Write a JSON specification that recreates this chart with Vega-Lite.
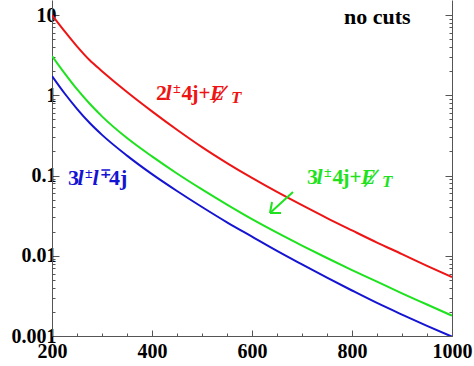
{
  "$schema": "https://vega.github.io/schema/vega-lite/v6.json",
  "width": 400,
  "height": 336,
  "autosize": "none",
  "padding": {"left": 52, "top": 0, "right": 22, "bottom": 30},
  "background": "white",
  "config": {"view": {"stroke": null}, "axis": {"grid": false, "title": null, "domainColor": "#555", "tickColor": "#555", "labelColor": "black", "labelFont": "Liberation Serif", "labelFontWeight": "bold", "labelFontSize": 20}},
  "datasets": {
    "curves": [
      {"m": 200, "sigma": 10, "series": "2l4jMET"},
      {"m": 225, "sigma": 6.31, "series": "2l4jMET"},
      {"m": 250, "sigma": 4.07, "series": "2l4jMET"},
      {"m": 275, "sigma": 2.75, "series": "2l4jMET"},
      {"m": 300, "sigma": 2.0, "series": "2l4jMET"},
      {"m": 350, "sigma": 1.1, "series": "2l4jMET"},
      {"m": 400, "sigma": 0.631, "series": "2l4jMET"},
      {"m": 450, "sigma": 0.372, "series": "2l4jMET"},
      {"m": 500, "sigma": 0.226, "series": "2l4jMET"},
      {"m": 550, "sigma": 0.143, "series": "2l4jMET"},
      {"m": 600, "sigma": 0.0933, "series": "2l4jMET"},
      {"m": 650, "sigma": 0.0624, "series": "2l4jMET"},
      {"m": 700, "sigma": 0.0427, "series": "2l4jMET"},
      {"m": 750, "sigma": 0.0295, "series": "2l4jMET"},
      {"m": 800, "sigma": 0.0207, "series": "2l4jMET"},
      {"m": 850, "sigma": 0.0146, "series": "2l4jMET"},
      {"m": 900, "sigma": 0.0105, "series": "2l4jMET"},
      {"m": 950, "sigma": 0.0075, "series": "2l4jMET"},
      {"m": 1000, "sigma": 0.00543, "series": "2l4jMET"},
      {"m": 200, "sigma": 3.09, "series": "3l4jMET"},
      {"m": 225, "sigma": 1.89, "series": "3l4jMET"},
      {"m": 250, "sigma": 1.19, "series": "3l4jMET"},
      {"m": 275, "sigma": 0.789, "series": "3l4jMET"},
      {"m": 300, "sigma": 0.546, "series": "3l4jMET"},
      {"m": 350, "sigma": 0.293, "series": "3l4jMET"},
      {"m": 400, "sigma": 0.173, "series": "3l4jMET"},
      {"m": 450, "sigma": 0.106, "series": "3l4jMET"},
      {"m": 500, "sigma": 0.0671, "series": "3l4jMET"},
      {"m": 550, "sigma": 0.0434, "series": "3l4jMET"},
      {"m": 600, "sigma": 0.0286, "series": "3l4jMET"},
      {"m": 650, "sigma": 0.0194, "series": "3l4jMET"},
      {"m": 700, "sigma": 0.0134, "series": "3l4jMET"},
      {"m": 750, "sigma": 0.00938, "series": "3l4jMET"},
      {"m": 800, "sigma": 0.00664, "series": "3l4jMET"},
      {"m": 850, "sigma": 0.00475, "series": "3l4jMET"},
      {"m": 900, "sigma": 0.0034, "series": "3l4jMET"},
      {"m": 950, "sigma": 0.00247, "series": "3l4jMET"},
      {"m": 1000, "sigma": 0.00179, "series": "3l4jMET"},
      {"m": 200, "sigma": 1.74, "series": "3l4j"},
      {"m": 225, "sigma": 1.06, "series": "3l4j"},
      {"m": 250, "sigma": 0.679, "series": "3l4j"},
      {"m": 275, "sigma": 0.454, "series": "3l4j"},
      {"m": 300, "sigma": 0.321, "series": "3l4j"},
      {"m": 350, "sigma": 0.177, "series": "3l4j"},
      {"m": 400, "sigma": 0.104, "series": "3l4j"},
      {"m": 450, "sigma": 0.0641, "series": "3l4j"},
      {"m": 500, "sigma": 0.0405, "series": "3l4j"},
      {"m": 550, "sigma": 0.0261, "series": "3l4j"},
      {"m": 600, "sigma": 0.0173, "series": "3l4j"},
      {"m": 650, "sigma": 0.0115, "series": "3l4j"},
      {"m": 700, "sigma": 0.0078, "series": "3l4j"},
      {"m": 750, "sigma": 0.00533, "series": "3l4j"},
      {"m": 800, "sigma": 0.00369, "series": "3l4j"},
      {"m": 850, "sigma": 0.00258, "series": "3l4j"},
      {"m": 900, "sigma": 0.00185, "series": "3l4j"},
      {"m": 950, "sigma": 0.00134, "series": "3l4j"},
      {"m": 1000, "sigma": 0.00098, "series": "3l4j"}
    ],
    "labels": [
      {"series": "2l4jMET", "n": "2", "x": 408, "y": 0.873},
      {"series": "3l4jMET", "n": "3", "x": 710, "y": 0.0783},
      {"series": "3l4j", "n": "3", "x": 232, "y": 0.0761}
    ],
    "note": [{"text": "no cuts", "x": 784, "y": 7.72}],
    "arrow": [
      {"x": 682, "y": 0.0622, "x2": 636, "y2": 0.0341},
      {"x": 636, "y": 0.0341, "x2": 640, "y2": 0.0468},
      {"x": 636, "y": 0.0341, "x2": 658, "y2": 0.0341}
    ]
  },
  "resolve": {"axis": {"x": "independent", "y": "independent"}},
  "layer": [
    {
      "data": {"name": "curves"},
      "mark": {"type": "line", "strokeWidth": 2, "clip": true, "interpolate": "monotone"},
      "encoding": {
        "x": {"field": "m", "type": "quantitative", "scale": {"domain": [200, 1000], "nice": false, "zero": false},
          "axis": {"orient": "bottom", "values": [200, 400, 600, 800, 1000], "format": "d", "tickSize": -6, "labelPadding": 11, "labelFlush": false, "labelOverlap": false}},
        "y": {"field": "sigma", "type": "quantitative", "scale": {"type": "log", "domain": [0.001, 15.4], "nice": false},
          "axis": {"orient": "left", "values": [0.001, 0.01, 0.1, 1, 10], "format": "~g", "tickSize": -7, "labelPadding": 3, "labelFlush": false, "labelOverlap": false}},
        "color": {"field": "series", "type": "nominal", "scale": {"domain": ["2l4jMET", "3l4jMET", "3l4j"], "range": ["#ee1414", "#1de21d", "#1414d2"]}, "legend": null}
      }
    },
    {
      "data": {"name": "curves"},
      "mark": {"type": "line", "strokeOpacity": 0},
      "encoding": {
        "x": {"field": "m", "type": "quantitative", "axis": {"orient": "bottom", "values": [250, 300, 350, 450, 500, 550, 650, 700, 750, 850, 900, 950], "tickSize": -3, "labels": false, "domain": false}},
        "y": {"field": "sigma", "type": "quantitative", "axis": {"orient": "left", "values": [0.002, 0.003, 0.004, 0.005, 0.006, 0.007, 0.008, 0.009, 0.02, 0.03, 0.04, 0.05, 0.06, 0.07, 0.08, 0.09, 0.2, 0.3, 0.4, 0.5, 0.6, 0.7, 0.8, 0.9, 2, 3, 4, 5, 6, 7, 8, 9], "tickSize": -3, "labels": false, "domain": false}}
      }
    },
    {
      "data": {"name": "curves"},
      "mark": {"type": "line", "strokeOpacity": 0},
      "encoding": {
        "x": {"field": "m", "type": "quantitative", "axis": null},
        "y": {"field": "sigma", "type": "quantitative", "axis": {"orient": "right", "values": [0.001, 0.01, 0.1, 1, 10], "tickSize": -7, "labels": false}}
      }
    },
    {
      "data": {"name": "curves"},
      "mark": {"type": "line", "strokeOpacity": 0},
      "encoding": {
        "x": {"field": "m", "type": "quantitative", "axis": null},
        "y": {"field": "sigma", "type": "quantitative", "axis": {"orient": "right", "values": [0.002, 0.003, 0.004, 0.005, 0.006, 0.007, 0.008, 0.009, 0.02, 0.03, 0.04, 0.05, 0.06, 0.07, 0.08, 0.09, 0.2, 0.3, 0.4, 0.5, 0.6, 0.7, 0.8, 0.9, 2, 3, 4, 5, 6, 7, 8, 9], "tickSize": -3, "labels": false, "domain": false}}
      }
    },
    {
      "data": {"name": "arrow"},
      "mark": {"type": "rule", "strokeWidth": 2, "color": "#1de21d"},
      "encoding": {
        "x": {"field": "x", "type": "quantitative", "axis": null},
        "y": {"field": "y", "type": "quantitative", "axis": null},
        "x2": {"field": "x2"},
        "y2": {"field": "y2"}
      }
    },
    {
      "data": {"name": "note"},
      "mark": {"type": "text", "align": "left", "baseline": "alphabetic", "font": "Liberation Serif", "fontWeight": "bold", "fontSize": 22, "color": "black"},
      "encoding": {
        "x": {"field": "x", "type": "quantitative", "axis": null},
        "y": {"field": "y", "type": "quantitative", "axis": null},
        "text": {"field": "text"}
      }
    },
    {
      "data": {"name": "labels"},
      "mark": {"type": "text", "align": "left", "baseline": "alphabetic", "font": "Liberation Serif", "fontWeight": "bold", "fontSize": 22},
      "encoding": {
        "x": {"field": "x", "type": "quantitative", "axis": null},
        "y": {"field": "y", "type": "quantitative", "axis": null},
        "text": {"field": "n"},
        "color": {"field": "series", "type": "nominal", "legend": null}
      }
    },
    {
      "data": {"name": "labels"},
      "mark": {"type": "text", "text": "l", "dx": 9.5, "align": "left", "baseline": "alphabetic", "font": "Liberation Serif", "fontWeight": "bold", "fontStyle": "italic", "fontSize": 22},
      "encoding": {
        "x": {"field": "x", "type": "quantitative", "axis": null},
        "y": {"field": "y", "type": "quantitative", "axis": null},
        "color": {"field": "series", "type": "nominal", "legend": null}
      }
    },
    {
      "data": {"name": "labels"},
      "mark": {"type": "text", "text": "±", "dx": 17, "dy": -7, "align": "left", "baseline": "alphabetic", "font": "Liberation Serif", "fontWeight": "bold", "fontSize": 14},
      "encoding": {
        "x": {"field": "x", "type": "quantitative", "axis": null},
        "y": {"field": "y", "type": "quantitative", "axis": null},
        "color": {"field": "series", "type": "nominal", "legend": null}
      }
    },
    {
      "data": {"name": "labels"},
      "transform": [{"filter": "datum.series !== '3l4j'"}],
      "mark": {"type": "text", "text": "4", "dx": 25.5, "align": "left", "baseline": "alphabetic", "font": "Liberation Serif", "fontWeight": "bold", "fontSize": 22},
      "encoding": {
        "x": {"field": "x", "type": "quantitative", "axis": null},
        "y": {"field": "y", "type": "quantitative", "axis": null},
        "color": {"field": "series", "type": "nominal", "legend": null}
      }
    },
    {
      "data": {"name": "labels"},
      "transform": [{"filter": "datum.series !== '3l4j'"}],
      "mark": {"type": "text", "text": "j+", "dx": 35.5, "align": "left", "baseline": "alphabetic", "font": "Liberation Serif", "fontWeight": "bold", "fontSize": 21},
      "encoding": {
        "x": {"field": "x", "type": "quantitative", "axis": null},
        "y": {"field": "y", "type": "quantitative", "axis": null},
        "color": {"field": "series", "type": "nominal", "legend": null}
      }
    },
    {
      "data": {"name": "labels"},
      "transform": [{"filter": "datum.series !== '3l4j'"}],
      "mark": {"type": "text", "text": "E", "dx": 54, "align": "left", "baseline": "alphabetic", "font": "Liberation Serif", "fontWeight": "bold", "fontStyle": "italic", "fontSize": 22},
      "encoding": {
        "x": {"field": "x", "type": "quantitative", "axis": null},
        "y": {"field": "y", "type": "quantitative", "axis": null},
        "color": {"field": "series", "type": "nominal", "legend": null}
      }
    },
    {
      "data": {"name": "labels"},
      "transform": [{"filter": "datum.series !== '3l4j'"}],
      "mark": {"type": "text", "text": "—", "dx": 45.9, "dy": 43.8, "angle": -50, "align": "center", "baseline": "middle", "font": "Liberation Serif", "fontWeight": "bold", "fontSize": 22},
      "encoding": {
        "x": {"field": "x", "type": "quantitative", "axis": null},
        "y": {"field": "y", "type": "quantitative", "axis": null},
        "color": {"field": "series", "type": "nominal", "legend": null}
      }
    },
    {
      "data": {"name": "labels"},
      "transform": [{"filter": "datum.series !== '3l4j'"}],
      "mark": {"type": "text", "text": "T", "dx": 75, "dy": 3, "align": "left", "baseline": "alphabetic", "font": "Liberation Serif", "fontWeight": "bold", "fontStyle": "italic", "fontSize": 17},
      "encoding": {
        "x": {"field": "x", "type": "quantitative", "axis": null},
        "y": {"field": "y", "type": "quantitative", "axis": null},
        "color": {"field": "series", "type": "nominal", "legend": null}
      }
    },
    {
      "data": {"name": "labels"},
      "transform": [{"filter": "datum.series === '3l4j'"}],
      "mark": {"type": "text", "text": "l", "dx": 24.5, "align": "left", "baseline": "alphabetic", "font": "Liberation Serif", "fontWeight": "bold", "fontStyle": "italic", "fontSize": 22},
      "encoding": {
        "x": {"field": "x", "type": "quantitative", "axis": null},
        "y": {"field": "y", "type": "quantitative", "axis": null},
        "color": {"field": "series", "type": "nominal", "legend": null}
      }
    },
    {
      "data": {"name": "labels"},
      "transform": [{"filter": "datum.series === '3l4j'"}],
      "mark": {"type": "text", "text": "∓", "dx": 32, "dy": -7, "align": "left", "baseline": "alphabetic", "font": "Liberation Serif, DejaVu Serif", "fontWeight": "bold", "fontSize": 14},
      "encoding": {
        "x": {"field": "x", "type": "quantitative", "axis": null},
        "y": {"field": "y", "type": "quantitative", "axis": null},
        "color": {"field": "series", "type": "nominal", "legend": null}
      }
    },
    {
      "data": {"name": "labels"},
      "transform": [{"filter": "datum.series === '3l4j'"}],
      "mark": {"type": "text", "text": "4j", "dx": 41, "align": "left", "baseline": "alphabetic", "font": "Liberation Serif", "fontWeight": "bold", "fontSize": 22},
      "encoding": {
        "x": {"field": "x", "type": "quantitative", "axis": null},
        "y": {"field": "y", "type": "quantitative", "axis": null},
        "color": {"field": "series", "type": "nominal", "legend": null}
      }
    }
  ]
}
